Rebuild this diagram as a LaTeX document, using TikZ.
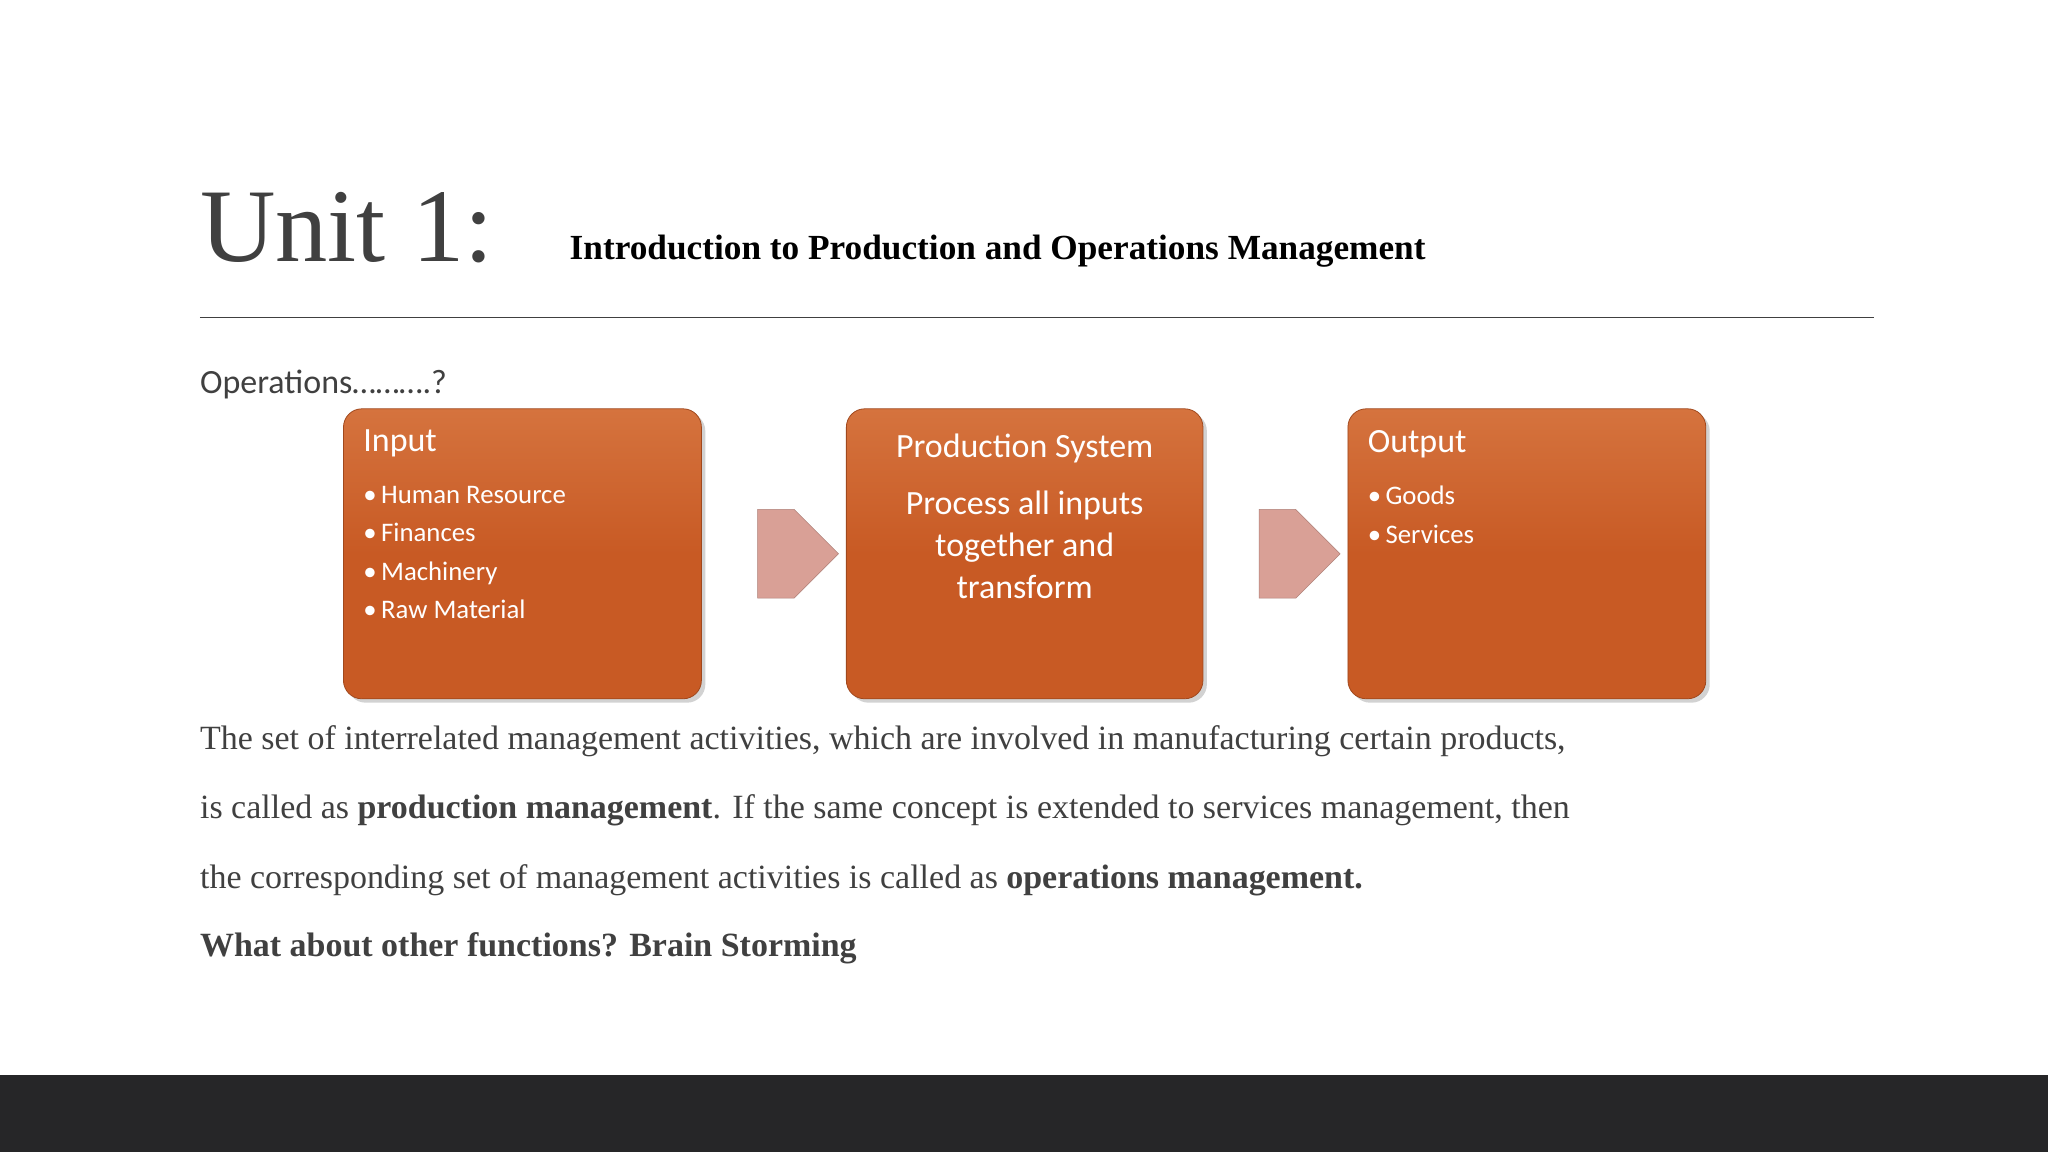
\documentclass[tikz,border=0pt]{standalone}
\usepackage{fontspec}
\setmainfont{Liberation Serif}
\newfontfamily\carl{Carlito}
\usetikzlibrary{shapes.arrows,shadows}
\definecolor{boxc}{HTML}{C85A24}
\definecolor{boxt}{HTML}{D5733E}
\definecolor{arr}{HTML}{D9A096}
\definecolor{txt}{HTML}{404040}
\definecolor{barc}{HTML}{262628}
\tikzset{
 pbox/.style={rounded corners=14pt, top color=boxt, bottom color=boxc, middle color=boxc, draw=boxc!80!black, line width=0.6pt, drop shadow={opacity=0.35,shadow xshift=3pt,shadow yshift=-3pt}},
 parr/.style={single arrow, fill=arr, draw=arr!80!black, minimum height=62pt, minimum width=68pt, single arrow head extend=0pt, inner sep=0pt, shape border rotate=0},
 btxt/.style={text=white, font=\carl, anchor=north west, align=left, inner sep=0pt},
 para/.style={anchor=base west, inner sep=0pt, text=txt, font=\fontsize{26}{30}\selectfont}
}
\begin{document}
\begin{tikzpicture}[x=1pt,y=-1pt]
\useasboundingbox (0,0) rectangle (1568,882);
\fill[white] (0,0) rectangle (1568,882);
\fill[barc] (0,823) rectangle (1568,882);
\node[anchor=base west,inner sep=0pt,text=txt,font=\fontsize{80}{80}\selectfont] (t1) at (153,200) {Unit 1:};
\node[anchor=base west,inner sep=0pt,font=\bfseries\fontsize{27}{30}\selectfont] (t2) at (436,199) {Introduction to Production and Operations Management};
\draw[line width=1.2pt,txt] (153,243) -- (1435,243);
\node[anchor=base west,inner sep=0pt,text=txt,font=\carl\fontsize{26}{30}\selectfont] (op) at (153,301) {Operations……….?};
\path[pbox] (263,313) rectangle (537,535);
\path[pbox] (648,313) rectangle (921,535);
\path[pbox] (1032,313) rectangle (1306,535);
\node[btxt,font=\carl\fontsize{26}{30}\selectfont] (in) at (278,329) {Input};
\node[btxt,font=\carl\fontsize{20.5}{29.5}\selectfont] (inl) at (278,372) {•\,Human Resource\\•\,Finances\\•\,Machinery\\•\,Raw Material};
\node[text=white,font=\carl\fontsize{26}{30}\selectfont,inner sep=0pt,anchor=north] (ps) at (784.5,332) {Production System};
\node[text=white,font=\carl\fontsize{26}{32}\selectfont,inner sep=0pt,anchor=north,align=center] (pst) at (784.5,376) {Process all inputs\\together and\\transform};
\node[btxt,font=\carl\fontsize{26}{30}\selectfont] (out) at (1047,329) {Output};
\node[btxt,font=\carl\fontsize{20.5}{29.5}\selectfont] (outl) at (1047,372) {•\,Goods\\•\,Services};
\node[parr] (a1) at (594,424) {};
\node[parr] (a2) at (978,424) {};
\node[para] (p1) at (153,574) {The set of interrelated management activities, which are involved in manufacturing certain products,};
\node[para] (p2) at (153,627) {is called as \textbf{production management}. If the same concept is extended to services management, then};
\node[para] (p3) at (153,680) {the corresponding set of management activities is called as \textbf{operations management.}};
\node[para,font=\bfseries\fontsize{26}{30}\selectfont] (p4) at (153,732) {What about other functions? Brain Storming};
\end{tikzpicture}
\end{document}
